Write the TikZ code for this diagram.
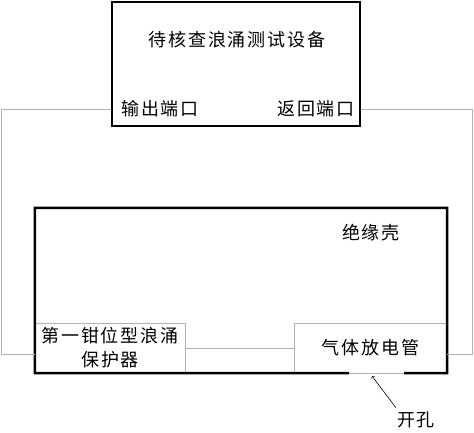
\documentclass[tikz,border=0pt]{standalone}
\usepackage{fontspec}
\newfontfamily\cjk[LetterSpace=10]{Noto Sans CJK SC}
\usetikzlibrary{positioning}

\begin{document}
\begin{tikzpicture}[x=1pt, y=-1pt,
  font=\cjk\fontsize{18}{24}\selectfont,
  box/.style = {draw, line width=2.5pt, inner sep=0pt},
  part/.style = {draw=gray!60, line width=0.8pt, inner sep=0pt, align=center},
  wire/.style = {draw=gray!60, line width=0.8pt},
  label/.style = {inner sep=0pt}]
\useasboundingbox (0,0) rectangle (474,432);
% device under test
\node[box, minimum width=248, minimum height=124] (dut) at (236,64) {};
\node[label] (title) at (237,40) {待核查浪涌测试设备};
\node[label] (out) at (160,109) {输出端口};
\node[label] (ret) at (316,109) {返回端口};
% parts inside the shell
\node[part, minimum width=150, minimum height=50] (spd) at (110,348) {第一钳位型浪涌\\保护器};
\node[part, minimum width=153, minimum height=50] (gdt) at (370.5,348) {气体放电管};
\node[minimum width=412, minimum height=165, inner sep=0pt] (shell) at (241,290.5) {};
\node[label] (shelltext) at (371,233) {绝缘壳};
\coordinate (holeL) at (349,373);
\coordinate (holeR) at (404,373);
\draw[line width=2.5pt] (holeL) -- (shell.south west) -- (shell.north west) -- (shell.north east) -- (shell.south east) -- (holeR);
% wires
\draw[wire] (spd.east) -- (gdt.west);
\draw[wire] (dut.west |- out) -- ++(-109,0) |- (shell.west |- 0,354);
\draw[wire] (dut.east |- ret) -- ++(111,0) |- (shell.east |- 0,354);
% hole
\node[label] (hole) at (416,420) {开孔};
\coordinate (tip) at (372,376);
\draw[->, line width=0.6pt] (hole.north west) ++(-1,-4) -- (tip);
\end{tikzpicture}
\end{document}
